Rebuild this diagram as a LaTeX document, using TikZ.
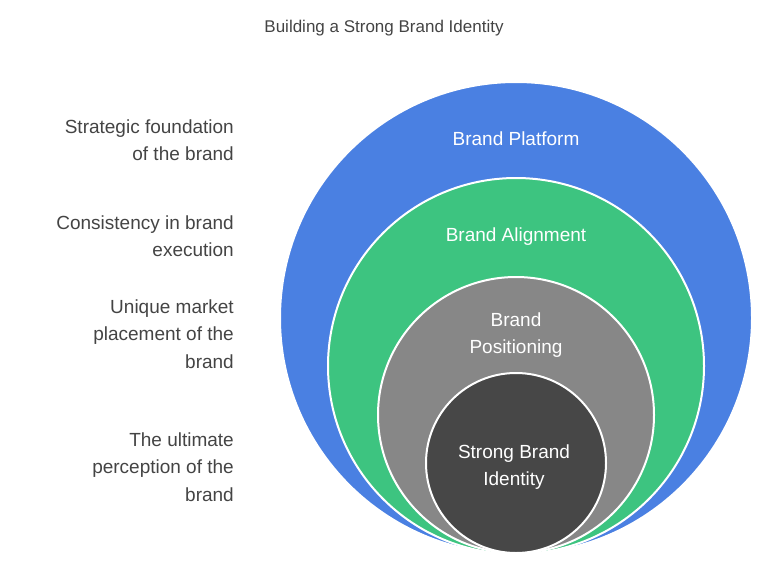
\documentclass[tikz,border=0pt]{standalone}
\usepackage{fontspec}
\setmainfont{Liberation Sans}
\definecolor{cblue}{HTML}{4A80E2}
\definecolor{cgreen}{HTML}{3DC480}
\definecolor{cgray}{HTML}{878787}
\definecolor{cdark}{HTML}{474747}
\definecolor{ctext}{HTML}{444444}
\begin{document}
\begin{tikzpicture}[x=1pt,y=-1pt,
 ring/.style={draw=white,line width=2pt},
 side/.style={anchor=east,align=right,text=ctext,font=\fontsize{19}{27.5}\selectfont,inner sep=0pt},
 inlab/.style={align=center,text=white,font=\fontsize{19}{27.5}\selectfont,inner sep=0pt}]
\useasboundingbox (0,0) rectangle (768,573);
\node[text=ctext,font=\fontsize{17}{20}\selectfont] (title) at (384,28) {Building a Strong Brand Identity};
\path[ring,fill=cblue] (516,318) circle (236);
\path[ring,fill=cgreen] (516,366) circle (188);
\path[ring,fill=cgray] (516,415) circle (138);
\path[ring,fill=cdark] (516,463) circle (90);
\node[inlab] (p) at (516,139) {Brand Platform};
\node[inlab] (a) at (516,237) {Brand Alignment};
\node[inlab] (s) at (516,335) {Brand\\Positioning};
\node[inlab] (i) at (514,467) {Strong Brand\\Identity};
\node[side] (l1) at (234,140) {Strategic foundation\\of the brand};
\node[side] (l2) at (234,236) {Consistency in brand\\execution};
\node[side] (l3) at (234,334) {Unique market\\placement of the\\brand};
\node[side] (l4) at (234,467) {The ultimate\\perception of the\\brand};
\end{tikzpicture}
\end{document}
